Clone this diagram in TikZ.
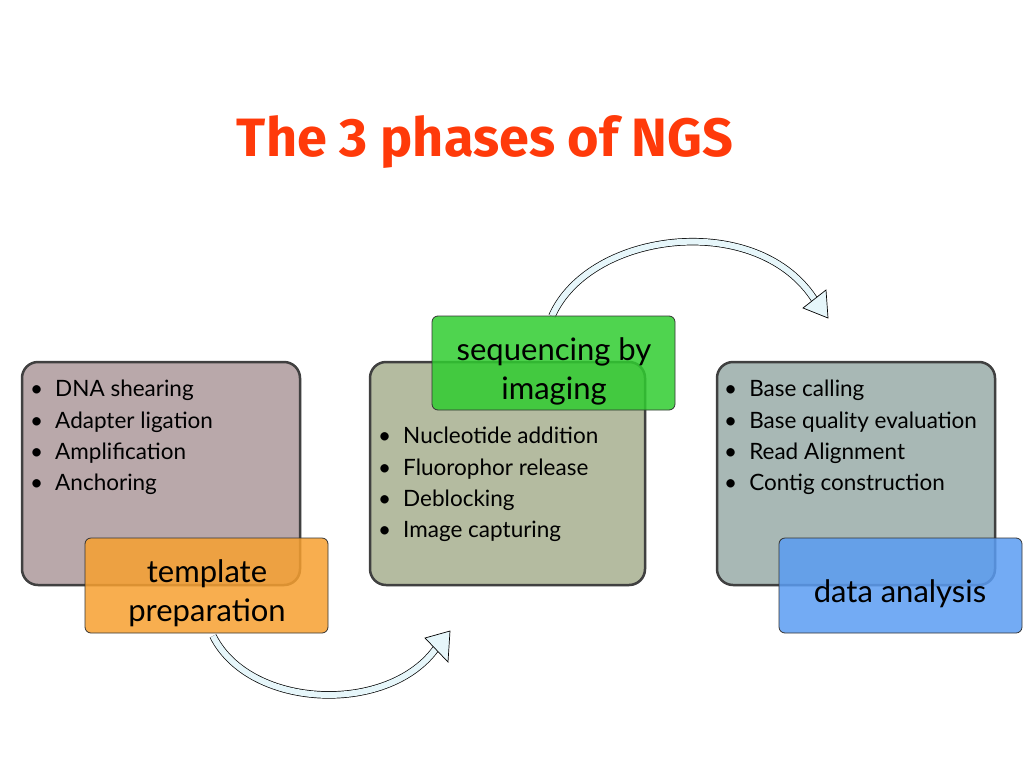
\documentclass[tikz,border=0pt]{standalone}
\usepackage{fontspec}
\setmainfont{Lato}
\newfontfamily\titlefont{Fira Sans}
\usetikzlibrary{shadows}
\definecolor{titlered}{HTML}{FF3A0A}
\definecolor{boxa}{HTML}{B9A8AA}
\definecolor{boxb}{HTML}{B4BBA0}
\definecolor{boxc}{HTML}{A8B8B5}
\definecolor{lblor}{HTML}{F7A030}
\definecolor{lblgr}{HTML}{30CC30}
\definecolor{lblbl}{HTML}{5A9CF2}
\definecolor{arrfill}{HTML}{E6F6FA}
\begin{document}
\begin{tikzpicture}[x=1pt,y=-1pt,
  bigbox/.style={draw=black!75,line width=2.5pt,rounded corners=16pt,drop shadow={opacity=0.5,shadow xshift=1pt,shadow yshift=-1pt}},
  lbl/.style={draw=black!80,line width=0.8pt,rounded corners=6pt,fill opacity=0.85},
  itm/.style={font=\fontsize{22.5}{31.3}\selectfont,anchor=north west,align=left,inner sep=0pt},
  lbltxt/.style={font=\fontsize{31}{39}\selectfont,align=center,inner sep=0pt},
  arc/.style={draw=black,line width=0.7pt,double=arrfill,double distance=6pt}]
\useasboundingbox (0,0) rectangle (1024,768);
\node[font=\titlefont\bfseries\fontsize{54}{58}\selectfont,text=titlered] (title) at (485,142) {The 3 phases of NGS};
% arrows
\coordinate (a1s) at (213,636);
\coordinate (a1e) at (437,647);
\draw[arc] (a1s) .. controls (250,710) and (390,715) .. (a1e);
\filldraw[fill=arrfill,draw=black,line width=0.7pt] (450,631) -- (425,638) -- (448,662) -- cycle;
\coordinate (a2s) at (552,316);
\coordinate (a2e) at (816,302);
\draw[arc] (a2s) .. controls (590,230) and (760,210) .. (a2e);
\filldraw[fill=arrfill,draw=black,line width=0.7pt] (828,318) -- (803,308) -- (826,290) -- cycle;
% boxes
\filldraw[bigbox,fill=boxa] (22,362) rectangle (300,585);
\filldraw[bigbox,fill=boxb] (370,362) rectangle (645,585);
\filldraw[bigbox,fill=boxc] (717,362) rectangle (995,585);
\node[itm] (i1) at (30,380) {•\hspace{12pt}DNA shearing\\•\hspace{12pt}Adapter ligation\\•\hspace{12pt}Amplification\\•\hspace{12pt}Anchoring};
\node[itm] (i2) at (378,427) {•\hspace{12pt}Nucleotide addition\\•\hspace{12pt}Fluorophor release\\•\hspace{12pt}Deblocking\\•\hspace{12pt}Image capturing};
\node[itm] (i3) at (724,380) {•\hspace{12pt}Base calling\\•\hspace{12pt}Base quality evaluation\\•\hspace{12pt}Read Alignment\\•\hspace{12pt}Contig construction};
% labels
\filldraw[lbl,fill=lblor] (85,538) rectangle (328,633);
\node[lbltxt] (l1) at (207,593) {template\\preparation};
\filldraw[lbl,fill=lblgr] (432,316) rectangle (675,410);
\node[lbltxt] (l2) at (554,371) {sequencing by\\imaging};
\filldraw[lbl,fill=lblbl] (779,538) rectangle (1022,633);
\node[lbltxt] (l3) at (900,594) {data analysis};
\end{tikzpicture}
\end{document}
